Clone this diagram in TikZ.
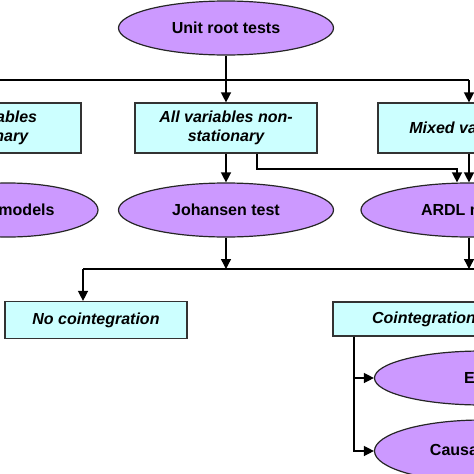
\documentclass[tikz,border=0pt]{standalone}
\usepackage{fontspec}
\setmainfont{Liberation Sans}
\usepackage{tikz}
\usetikzlibrary{positioning,arrows.meta,shapes.geometric}
\definecolor{ovalpurple}{HTML}{CC99FF}
\definecolor{boxcyan}{HTML}{CCFFFF}

\begin{document}
\begin{tikzpicture}[x=1pt, y=-1pt, font=\fontsize{16}{18.5}\selectfont\bfseries,
  box/.style={draw=black!80, line width=1.2pt, fill=boxcyan, align=center,
    minimum width=182pt, minimum height=50pt, inner sep=2pt,
    font=\fontsize{16}{18.5}\selectfont\bfseries\itshape},
  oval/.style={ellipse, draw=black!85, line width=1.2pt, fill=ovalpurple,
    minimum width=215pt, minimum height=54pt, inner sep=0pt},
  conn/.style={draw=black, line width=1.4pt},
  arr/.style={conn, -{Triangle[width=10pt,length=10pt]}}]
\useasboundingbox (0,0) rectangle (474,474);
\fill[white] (0,0) rectangle (474,474);
\clip (0,0) rectangle (474,474);
\node[oval] (unit) at (226,28) {Unit root tests};
\node[box] (stat)    at (-10,128) {All variables\\ stationary};
\node[box] (nonstat) at (226,128) {All variables non-\\ stationary};
\node[box] (mixed)   at (469,128) {Mixed variables};
\node[oval, minimum width=180pt] (var) at (8,210) {VAR models};
\node[oval] (joh)  at (226,210) {Johansen test};
\node[oval, minimum width=216pt] (ardl) at (469,210) {ARDL model};
\node[box, minimum height=37pt] (nocoint) at (96,320) {No cointegration};
\node[box, minimum height=34pt] (coint)   at (424,319) {Cointegration};
\node[oval] (ecm)  at (482,378) {ECM};
\node[oval, minimum height=62pt] (caus) at (482,451) {Causality test};
\coordinate (busA) at (0,80);
\coordinate (busB) at (0,269);
\coordinate (busEnd) at (545,269);
\coordinate (jog) at (457,169);
\coordinate (fork) at ([xshift=-70pt]coint.south);
\draw[conn] (stat.north |- busA) -- (mixed.north |- busA);
\draw[arr] (unit) -- (nonstat);
\foreach \n in {stat,mixed}
  \draw[arr] (\n.north |- busA) -- (\n.north);
\draw[arr] (stat.south) -- (stat.south |- var.north);
\draw[arr] (nonstat) -- (joh);
\draw[arr] (mixed) -- (ardl);
\draw[arr] ([xshift=31pt]nonstat.south) |- (jog) -- (jog |- ardl.north);
\draw[conn] ([xshift=-13pt]nocoint.north |- busB) -- (busEnd);
\foreach \n in {joh,ardl}
  \draw[arr] (\n.south) -- (\n.south |- busB);
\draw[arr] ([xshift=-13pt]nocoint.north |- busB) -- ([xshift=-13pt]nocoint.north);
\draw[arr] (busEnd) |- (coint.east);
\foreach \n in {ecm,caus}
  \draw[arr] (fork) |- (\n.west);
\end{tikzpicture}
\end{document}
